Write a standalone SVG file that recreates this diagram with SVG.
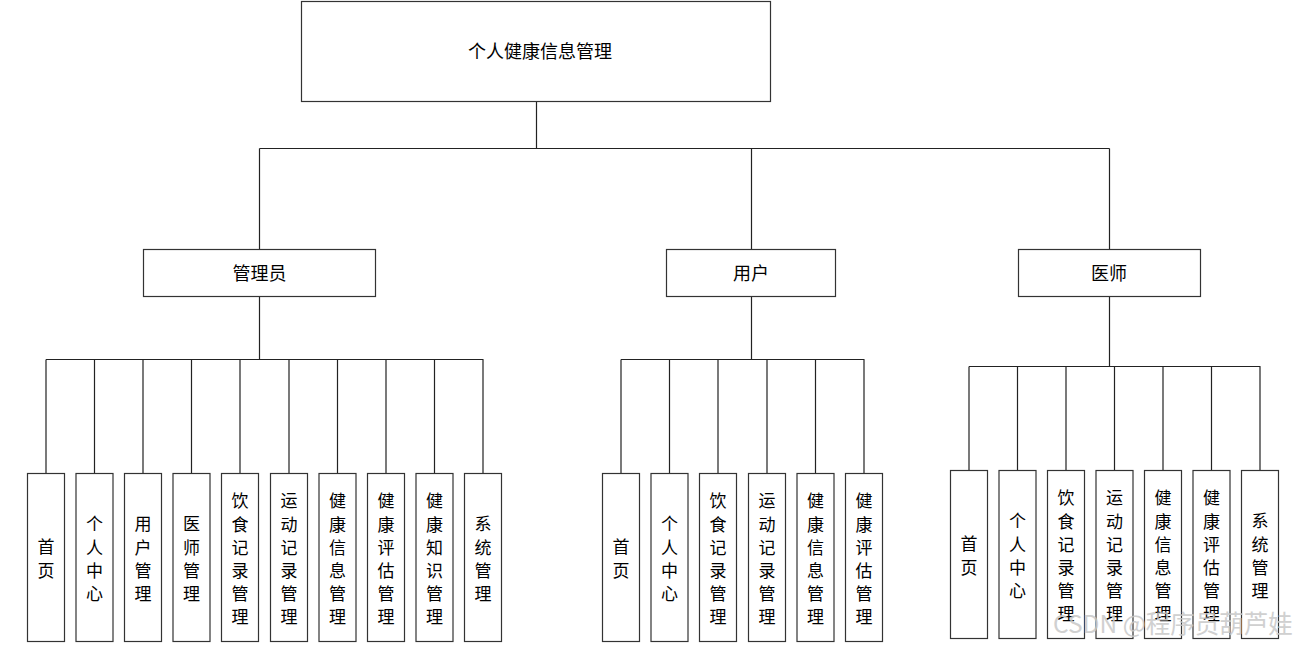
<svg xmlns="http://www.w3.org/2000/svg" width="1308" height="645" viewBox="0 0 1308 645">
<style>
.box{fill:#fff;stroke:#333;stroke-width:1.2}
.ln{fill:none;stroke:#222;stroke-width:1.2}
.t{font-family:"SimSun","Noto Sans CJK SC",sans-serif;font-size:18px;fill:#000;text-anchor:middle;dominant-baseline:central}
.v{font-family:"SimSun","Noto Sans CJK SC",sans-serif;font-size:17px;fill:#000;text-anchor:middle;dominant-baseline:central}
.wm{font-family:"Noto Sans CJK SC",sans-serif;font-size:24.5px;fill:#c8c8c8;opacity:0.85}
</style>
<rect width="1308" height="645" fill="#fff"/>
<g id="connectors">
<path class="ln" d="M536.5 101V148.5M259.5 148.5H1109.5M259.5 148.5V249M751.5 148.5V249M1109.5 148.5V249"/>
<path class="ln" d="M259.5 297V359.5M46 359.5H483.5M46 359.5V473M94.5 359.5V473M143 359.5V473M191.5 359.5V473M240 359.5V473M289 359.5V473M337.5 359.5V473M386 359.5V473M434.5 359.5V473M483 359.5V473"/>
<path class="ln" d="M751.5 297V359.5M621 359.5H864.5M621 359.5V473M669.5 359.5V473M718 359.5V473M767 359.5V473M815.5 359.5V473M864 359.5V473"/>
<path class="ln" d="M1109.5 297V366.5M969 366.5H1260.5M969 366.5V470M1017.5 366.5V470M1066 366.5V470M1114.5 366.5V470M1163 366.5V470M1211.5 366.5V470M1260 366.5V470"/>
</g>
<g id="root"><rect class="box" x="301.5" y="1.5" width="469" height="100"/><text class="t" x="540" y="50">个人健康信息管理</text></g>
<g id="admin"><rect class="box" x="143.5" y="249.5" width="232" height="47"/><text class="t" x="259.5" y="272">管理员</text></g>
<g id="user"><rect class="box" x="666.5" y="249.5" width="169" height="47"/><text class="t" x="751" y="272">用户</text></g>
<g id="doctor"><rect class="box" x="1018.5" y="249.5" width="182" height="47"/><text class="t" x="1109" y="272">医师</text></g>

<g id="a1"><rect class="box" x="27.5" y="473.5" width="37" height="168"/><text class="v" x="46" y="545.5">首<tspan x="46" dy="23">页</tspan></text></g>
<g id="a2"><rect class="box" x="76" y="473.5" width="37" height="168"/><text class="v" x="94.5" y="522.5">个<tspan x="94.5" dy="23">人</tspan><tspan x="94.5" dy="23">中</tspan><tspan x="94.5" dy="23">心</tspan></text></g>
<g id="a3"><rect class="box" x="124.5" y="473.5" width="37" height="168"/><text class="v" x="143" y="522.5">用<tspan x="143" dy="23">户</tspan><tspan x="143" dy="23">管</tspan><tspan x="143" dy="23">理</tspan></text></g>
<g id="a4"><rect class="box" x="173" y="473.5" width="37" height="168"/><text class="v" x="191.5" y="522.5">医<tspan x="191.5" dy="23">师</tspan><tspan x="191.5" dy="23">管</tspan><tspan x="191.5" dy="23">理</tspan></text></g>
<g id="a5"><rect class="box" x="221.5" y="473.5" width="37" height="168"/><text class="v" x="240" y="499.5">饮<tspan x="240" dy="23">食</tspan><tspan x="240" dy="23">记</tspan><tspan x="240" dy="23">录</tspan><tspan x="240" dy="23">管</tspan><tspan x="240" dy="23">理</tspan></text></g>
<g id="a6"><rect class="box" x="270.5" y="473.5" width="37" height="168"/><text class="v" x="289" y="499.5">运<tspan x="289" dy="23">动</tspan><tspan x="289" dy="23">记</tspan><tspan x="289" dy="23">录</tspan><tspan x="289" dy="23">管</tspan><tspan x="289" dy="23">理</tspan></text></g>
<g id="a7"><rect class="box" x="319" y="473.5" width="37" height="168"/><text class="v" x="337.5" y="499.5">健<tspan x="337.5" dy="23">康</tspan><tspan x="337.5" dy="23">信</tspan><tspan x="337.5" dy="23">息</tspan><tspan x="337.5" dy="23">管</tspan><tspan x="337.5" dy="23">理</tspan></text></g>
<g id="a8"><rect class="box" x="367.5" y="473.5" width="37" height="168"/><text class="v" x="386" y="499.5">健<tspan x="386" dy="23">康</tspan><tspan x="386" dy="23">评</tspan><tspan x="386" dy="23">估</tspan><tspan x="386" dy="23">管</tspan><tspan x="386" dy="23">理</tspan></text></g>
<g id="a9"><rect class="box" x="416" y="473.5" width="37" height="168"/><text class="v" x="434.5" y="499.5">健<tspan x="434.5" dy="23">康</tspan><tspan x="434.5" dy="23">知</tspan><tspan x="434.5" dy="23">识</tspan><tspan x="434.5" dy="23">管</tspan><tspan x="434.5" dy="23">理</tspan></text></g>
<g id="a10"><rect class="box" x="464.5" y="473.5" width="37" height="168"/><text class="v" x="483" y="522.5">系<tspan x="483" dy="23">统</tspan><tspan x="483" dy="23">管</tspan><tspan x="483" dy="23">理</tspan></text></g>

<g id="u1"><rect class="box" x="602.5" y="473.5" width="37" height="168"/><text class="v" x="621" y="545.5">首<tspan x="621" dy="23">页</tspan></text></g>
<g id="u2"><rect class="box" x="651" y="473.5" width="37" height="168"/><text class="v" x="669.5" y="522.5">个<tspan x="669.5" dy="23">人</tspan><tspan x="669.5" dy="23">中</tspan><tspan x="669.5" dy="23">心</tspan></text></g>
<g id="u3"><rect class="box" x="699.5" y="473.5" width="37" height="168"/><text class="v" x="718" y="499.5">饮<tspan x="718" dy="23">食</tspan><tspan x="718" dy="23">记</tspan><tspan x="718" dy="23">录</tspan><tspan x="718" dy="23">管</tspan><tspan x="718" dy="23">理</tspan></text></g>
<g id="u4"><rect class="box" x="748.5" y="473.5" width="37" height="168"/><text class="v" x="767" y="499.5">运<tspan x="767" dy="23">动</tspan><tspan x="767" dy="23">记</tspan><tspan x="767" dy="23">录</tspan><tspan x="767" dy="23">管</tspan><tspan x="767" dy="23">理</tspan></text></g>
<g id="u5"><rect class="box" x="797" y="473.5" width="37" height="168"/><text class="v" x="815.5" y="499.5">健<tspan x="815.5" dy="23">康</tspan><tspan x="815.5" dy="23">信</tspan><tspan x="815.5" dy="23">息</tspan><tspan x="815.5" dy="23">管</tspan><tspan x="815.5" dy="23">理</tspan></text></g>
<g id="u6"><rect class="box" x="845.5" y="473.5" width="37" height="168"/><text class="v" x="864" y="499.5">健<tspan x="864" dy="23">康</tspan><tspan x="864" dy="23">评</tspan><tspan x="864" dy="23">估</tspan><tspan x="864" dy="23">管</tspan><tspan x="864" dy="23">理</tspan></text></g>

<g id="d1"><rect class="box" x="950.5" y="470.5" width="37" height="168"/><text class="v" x="969" y="542.5">首<tspan x="969" dy="23">页</tspan></text></g>
<g id="d2"><rect class="box" x="999" y="470.5" width="37" height="168"/><text class="v" x="1017.5" y="519.5">个<tspan x="1017.5" dy="23">人</tspan><tspan x="1017.5" dy="23">中</tspan><tspan x="1017.5" dy="23">心</tspan></text></g>
<g id="d3"><rect class="box" x="1047.5" y="470.5" width="37" height="168"/><text class="v" x="1066" y="496.5">饮<tspan x="1066" dy="23">食</tspan><tspan x="1066" dy="23">记</tspan><tspan x="1066" dy="23">录</tspan><tspan x="1066" dy="23">管</tspan><tspan x="1066" dy="23">理</tspan></text></g>
<g id="d4"><rect class="box" x="1096" y="470.5" width="37" height="168"/><text class="v" x="1114.5" y="496.5">运<tspan x="1114.5" dy="23">动</tspan><tspan x="1114.5" dy="23">记</tspan><tspan x="1114.5" dy="23">录</tspan><tspan x="1114.5" dy="23">管</tspan><tspan x="1114.5" dy="23">理</tspan></text></g>
<g id="d5"><rect class="box" x="1144.5" y="470.5" width="37" height="168"/><text class="v" x="1163" y="496.5">健<tspan x="1163" dy="23">康</tspan><tspan x="1163" dy="23">信</tspan><tspan x="1163" dy="23">息</tspan><tspan x="1163" dy="23">管</tspan><tspan x="1163" dy="23">理</tspan></text></g>
<g id="d6"><rect class="box" x="1193" y="470.5" width="37" height="168"/><text class="v" x="1211.5" y="496.5">健<tspan x="1211.5" dy="23">康</tspan><tspan x="1211.5" dy="23">评</tspan><tspan x="1211.5" dy="23">估</tspan><tspan x="1211.5" dy="23">管</tspan><tspan x="1211.5" dy="23">理</tspan></text></g>
<g id="d7"><rect class="box" x="1241.5" y="470.5" width="37" height="168"/><text class="v" x="1260" y="519.5">系<tspan x="1260" dy="23">统</tspan><tspan x="1260" dy="23">管</tspan><tspan x="1260" dy="23">理</tspan></text></g>

<text class="wm" x="1053" y="633">CSDN @程序员葫芦娃</text>
</svg>
